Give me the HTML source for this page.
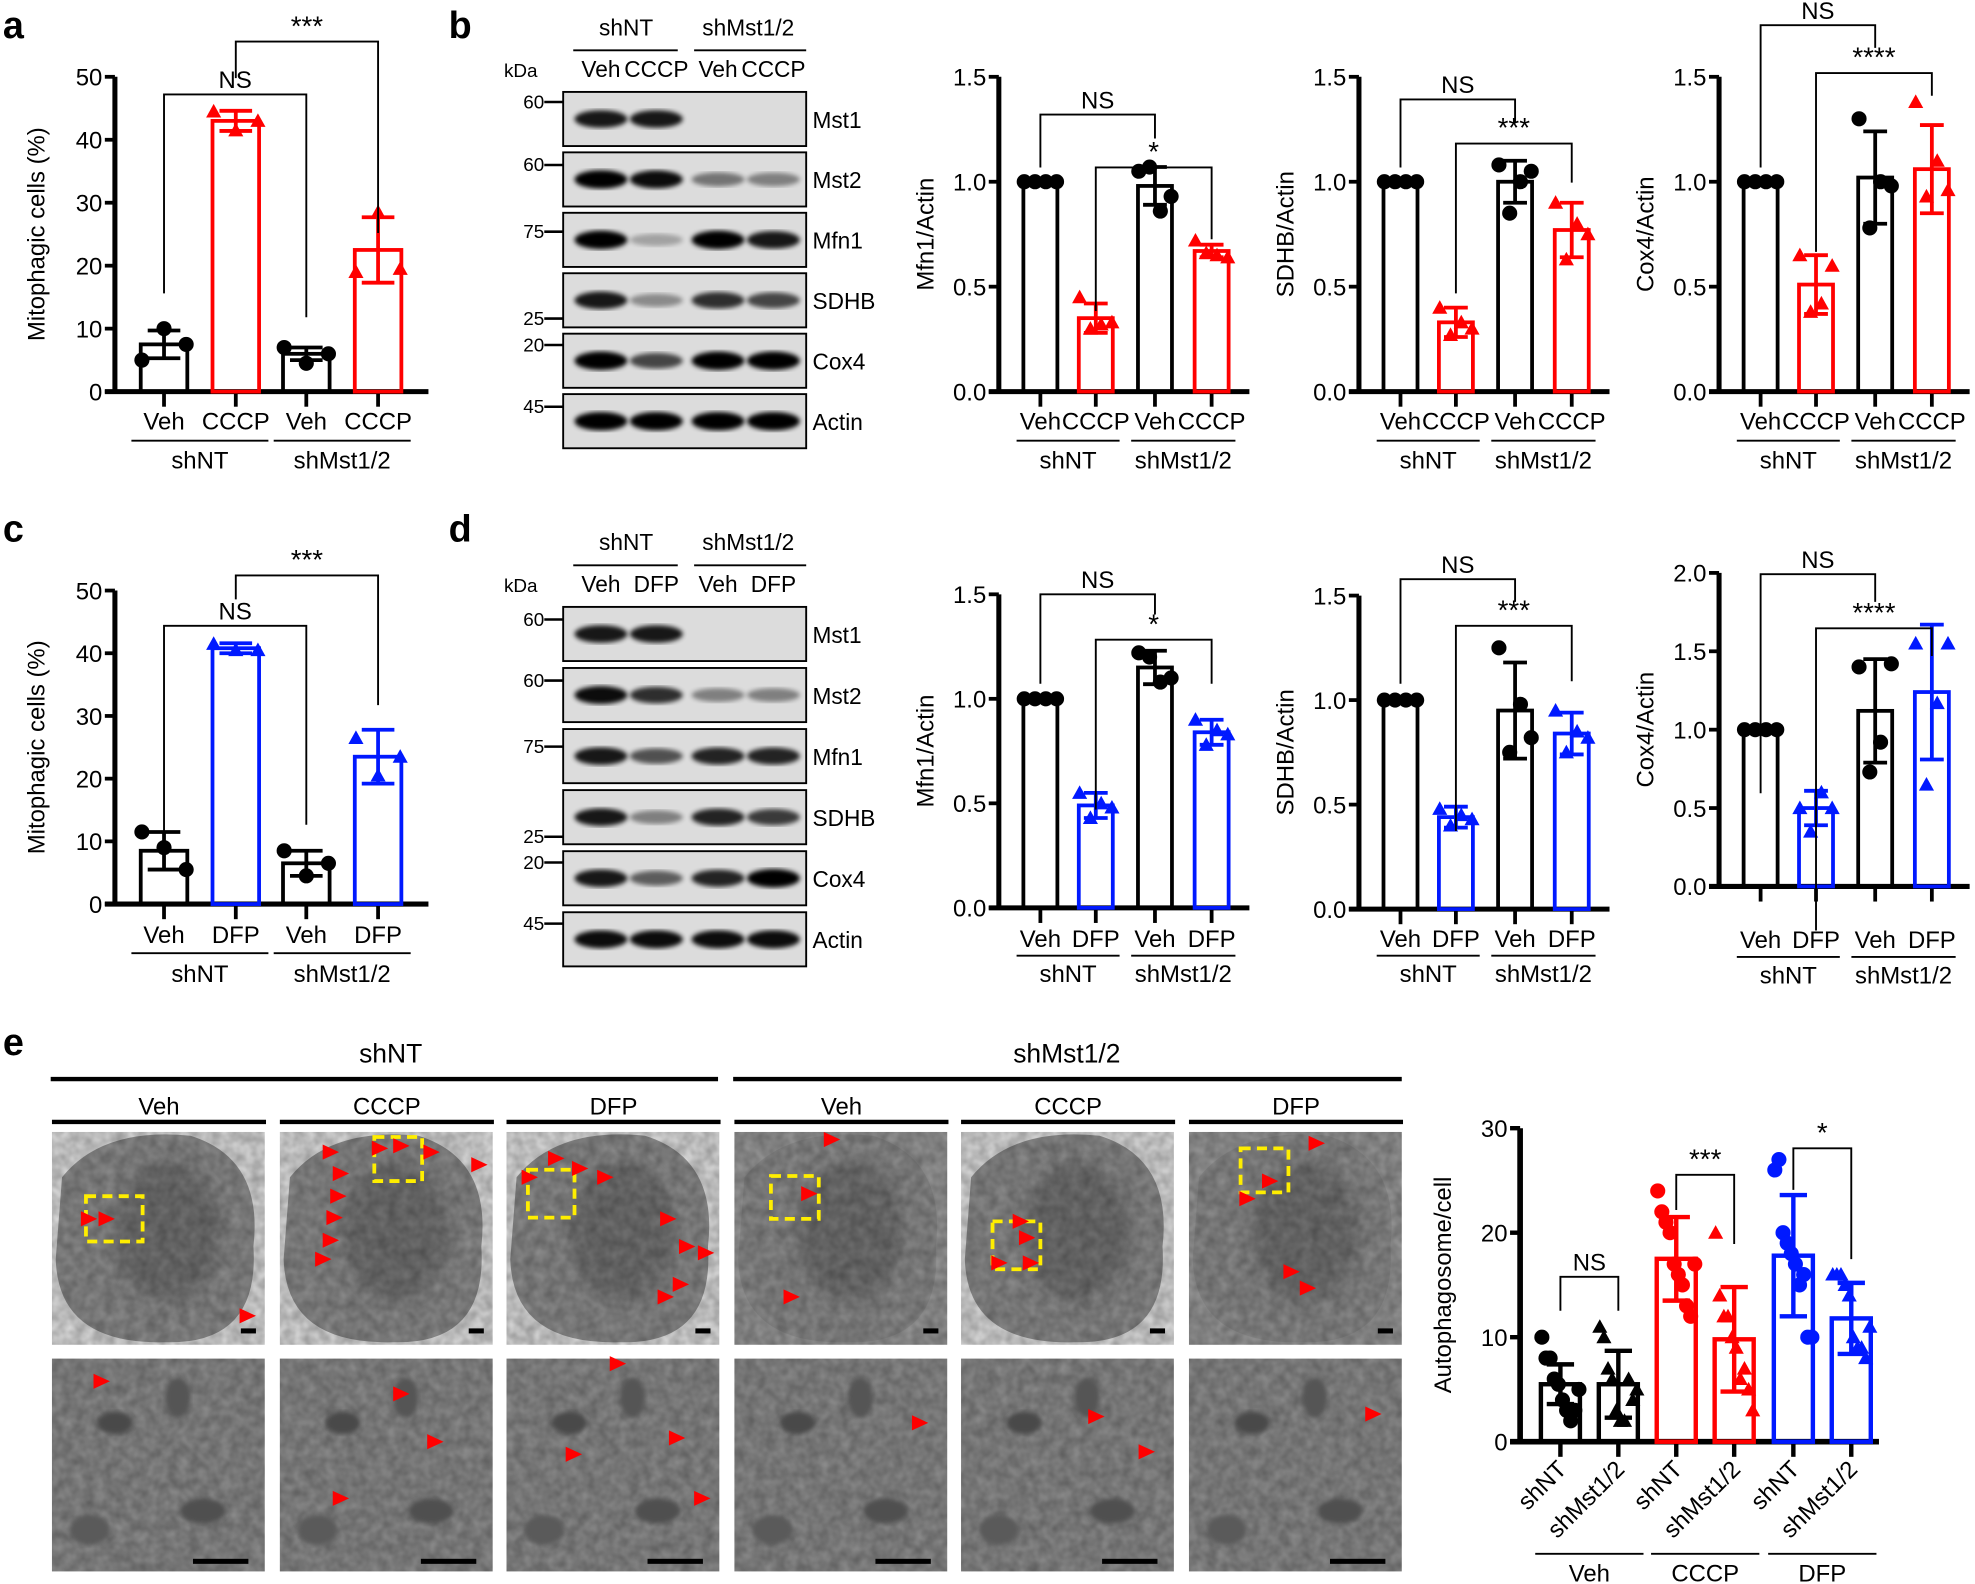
<!DOCTYPE html>
<html><head><meta charset="utf-8">
<style>
html,body{margin:0;padding:0;background:#fff;}
svg{display:block;font-family:"Liberation Sans",Arial,sans-serif;}
</style></head>
<body>
<svg id="fig" width="1975" height="1584" viewBox="0 0 1568 1258" xmlns="http://www.w3.org/2000/svg">
<defs>
<filter id="blur2"><feGaussianBlur stdDeviation="2"/></filter>
<filter id="blur4"><feGaussianBlur stdDeviation="5"/></filter>
<filter id="noise" x="0" y="0" width="100%" height="100%">
<feTurbulence type="fractalNoise" baseFrequency="0.12" numOctaves="2" seed="3"/>
<feColorMatrix type="matrix" values="0 0 0 0 0  0 0 0 0 0  0 0 0 0 0  0 0 0 0.35 0"/>
<feComposite in2="SourceGraphic" operator="in"/>
</filter>
</defs>
<g id="root"></g>
</svg>
<script>
// ===== DATA =====
const groupsAB = ["Veh","CCCP","Veh","CCCP"];
const groupsCD = ["Veh","DFP","Veh","DFP"];
const hairpins = ["shNT","shMst1/2"];
const aMeans = [7.5, 43, 6, 22.5];
const aErr = [2.2, 1.6, 1.0, 5.2];
const aPts = [[5,10,7.5],[44.5,41.5,43],[7,4.5,6],[19,28.5,19.5]];
const cMeans = [8.5, 40.8, 6.5, 23.5];
const cErr = [3, 0.8, 2, 4.3];
const cPts = [[11.5,9,5.5],[41.5,40.5,40.5],[8.5,4.5,6.5],[26.5,20.5,23.5]];
const bMfnMeans = [1.0, 0.35, 0.98, 0.67];
const bMfnErr = [0, 0.07, 0.09, 0.03];
const bMfnPts = [[1,1,1,1],[0.45,0.3,0.32,0.33],[1.05,1.07,0.86,0.93],[0.72,0.66,0.65,0.64]];
const bSdhMeans = [1.0, 0.33, 1.0, 0.77];
const bSdhErr = [0, 0.07, 0.1, 0.13];
const bSdhPts = [[1,1,1,1],[0.4,0.27,0.33,0.3],[1.08,0.85,1,1.05],[0.9,0.63,0.8,0.75]];
const bCoxMeans = [1.0, 0.51, 1.02, 1.06];
const bCoxErr = [0, 0.14, 0.22, 0.21];
const bCoxPts = [[1,1,1,1],[0.65,0.38,0.42,0.6],[1.3,0.78,1.0,0.98],[1.38,0.93,1.1,0.96]];
const dMfnMeans = [1.0, 0.49, 1.15, 0.84];
const dMfnErr = [0, 0.06, 0.08, 0.06];
const dMfnPts = [[1,1,1,1],[0.55,0.43,0.5,0.48],[1.22,1.2,1.08,1.1],[0.9,0.78,0.85,0.83]];
const dSdhMeans = [1.0, 0.44, 0.95, 0.84];
const dSdhErr = [0, 0.05, 0.23, 0.1];
const dSdhPts = [[1,1,1,1],[0.48,0.4,0.45,0.43],[1.25,0.75,0.98,0.82],[0.95,0.75,0.85,0.82]];
const dCoxMeans = [1.0, 0.5, 1.12, 1.24];
const dCoxErr = [0, 0.11, 0.33, 0.43];
const dCoxPts = [[1,1,1,1],[0.5,0.35,0.6,0.5],[1.4,0.73,0.92,1.42],[1.55,0.65,1.17,1.55]];
const eCats = ["shNT","shMst1/2","shNT","shMst1/2","shNT","shMst1/2"];
const eTreat = ["Veh","CCCP","DFP"];
const eMeans = [5.5, 5.5, 17.5, 9.8, 17.8, 11.8];
const eErr = [1.9, 3.2, 4, 5, 5.8, 3.4];
const ePts = [[10,8,8,6,5.5,4,3,2,3,5],[11,10,7,6,3,2,2,6,4,5],[24,22,21,20,17,16,15,13,12,17],[20,14,12,12,10,9,6,7,5,3],[26,27,20,19,18,17,15,16,10,10],[16,16,16,15,14,10,9,9,8,11]];
const blotRows = ["Mst1","Mst2","Mfn1","SDHB","Cox4","Actin"];
const blotBIntensity = [[0.85,0.85,0,0],[0.95,0.9,0.45,0.4],[0.95,0.25,0.95,0.85],[0.85,0.35,0.75,0.65],[0.95,0.65,0.95,0.95],[0.95,0.95,0.95,0.95]];
const blotDIntensity = [[0.85,0.85,0,0],[0.9,0.75,0.4,0.4],[0.85,0.6,0.8,0.8],[0.85,0.4,0.8,0.7],[0.85,0.55,0.8,0.95],[0.9,0.9,0.9,0.9]];
const markersB = ["60","60","75","25","20","45"];
const markersD = ["60","60","75","25","20","45"];

// ===== HELPERS =====
const NS="http://www.w3.org/2000/svg";
const root=document.getElementById('root');
function mk(tag, attrs, parent, text){
  const e=document.createElementNS(NS,tag);
  for(const k in attrs) e.setAttribute(k, attrs[k]);
  if(text!==undefined) e.textContent=text;
  (parent||root).appendChild(e);
  return e;
}
function txt(x,y,s,size,parent,anchor,weight,rot){
  const a={x:x,y:y,'font-size':size,'text-anchor':anchor||'middle',fill:'#000'};
  if(weight) a['font-weight']=weight;
  if(rot!==undefined) a.transform='rotate('+rot+' '+x+' '+y+')';
  return mk('text',a,parent,s);
}
function tri(g,x,y,r,col){
  mk('polygon',{points:(x)+','+(y-r)+' '+(x-r)+','+(y+r*0.8)+' '+(x+r)+','+(y+r*0.8),fill:col},g);
}

// ===== BAR CHART =====
function barChart(o){
  const g=mk('g',{});
  
  
  const ys=v=>o.y0-(v/o.max)*(o.y0-o.ytop);
  const xs=i=>o.ax+o.offs[i];
  const ax=mk('line',{x1:o.ax,y1:o.ytop,x2:o.ax,y2:o.y0,stroke:'#000','stroke-width':o.lw+1},g);
  
  
  const xa=mk('line',{x1:o.ax-8,y1:o.y0,x2:o.xend,y2:o.y0,stroke:'#000','stroke-width':o.lw+1},g);
  
  
  o.ticks.forEach((t,ti)=>{
    mk('line',{x1:o.ax-8,y1:ys(t),x2:o.ax,y2:ys(t),stroke:'#000','stroke-width':o.lw},g);
    const tl=txt(o.ax-10,ys(t)+7,o.tickLabels?o.tickLabels[ti]:String(t),o.fs,g,'end');
    
    
  });
  const yt=txt(o.ax-o.titleOff,(o.ytop+o.y0)/2,o.ytitle,o.fs,g,'middle',null,-90);
  
  
  o.means.forEach((m,i)=>{
    const col=o.colors[i];
    const x=xs(i);
    mk('line',{x1:x,y1:o.y0,x2:x,y2:o.y0+12,stroke:'#000','stroke-width':o.lw},g);
    const b=mk('rect',{x:x-o.bw/2,y:ys(m),width:o.bw,height:o.y0-ys(m),fill:'none',stroke:col,'stroke-width':o.lw},g);
    
    
    const e=o.err[i];
    if(e>0){
      mk('line',{x1:x,y1:ys(m+e),x2:x,y2:ys(m-e),stroke:col,'stroke-width':o.lw},g);
      mk('line',{x1:x-o.bw*0.35,y1:ys(m+e),x2:x+o.bw*0.35,y2:ys(m+e),stroke:col,'stroke-width':o.lw},g);
      mk('line',{x1:x-o.bw*0.35,y1:ys(m-e),x2:x+o.bw*0.35,y2:ys(m-e),stroke:col,'stroke-width':o.lw},g);
    }
    const pts=o.pts[i]; const n=pts.length;
    pts.forEach((p,k)=>{
      const dx=n>1?(k/(n-1)-0.5)*o.bw*0.95:0;
      if(o.shapes[i]==='c') mk('circle',{cx:x+dx,cy:ys(p),r:o.pr,fill:col},g);
      else tri(g,x+dx,ys(p),o.pr,col);
    });
    if(o.cats){
      const cl=txt(x,o.labY,o.cats[i],o.fs,g,'middle');
      
      
    }
  });
  if(o.groups){
    o.groups.forEach((gl,j)=>{
      const x1=xs(j*2)-o.bw*0.7, x2=xs(j*2+1)+o.bw*0.7;
      mk('line',{x1:x1,y1:o.gLineY,x2:x2,y2:o.gLineY,stroke:'#000','stroke-width':1.5},g);
      const t=txt((x1+x2)/2,o.gLabY,gl,o.fs,g,'middle');
      
      
    });
  }
  (o.brackets||[]).forEach(br=>{
    const x1=xs(br[0]),x2=xs(br[1]),top=br[2];
    mk('polyline',{points:x1+','+br[3]+' '+x1+','+top+' '+x2+','+top+' '+x2+','+br[4],fill:'none',stroke:'#000','stroke-width':1.5},g);
    txt((x1+x2)/2,top-5,br[5],br[5]==='NS'?o.fs:o.fs+3,g,'middle');
  });
  return {g,ys,xs};
}

const K='#000', R='#ff0000', B='#0019ff';
const FS=19;
barChart({name:'chart-a',ax:91,y0:311,ytop:61,max:50,ticks:[0,10,20,30,40,50],fs:FS,ytitle:'Mitophagic cells (%)',titleOff:56,
 offs:[39,96,152,209],bw:37,lw:3,xend:340,means:aMeans,err:aErr,pts:aPts,colors:[K,R,K,R],shapes:['c','t','c','t'],pr:6,
 cats:groupsAB,labY:341,groups:hairpins,gLineY:350,gLabY:372,
 brackets:[[0,2,75,233,252,'NS'],[1,3,33,62,185,'***']]});
barChart({name:'chart-c',ax:91,y0:718,ytop:469,max:50,ticks:[0,10,20,30,40,50],fs:FS,ytitle:'Mitophagic cells (%)',titleOff:56,
 offs:[39,96,152,209],bw:37,lw:3,xend:340,means:cMeans,err:cErr,pts:cPts,colors:[K,B,K,B],shapes:['c','t','c','t'],pr:6,
 cats:groupsCD,labY:749,groups:hairpins,gLineY:757,gLabY:780,
 brackets:[[0,2,497,678,655,'NS'],[1,3,457,476,560,'***']]});
const bOffs=[33,77,124,169];
barChart({name:'chart-b-mfn1',ax:793,y0:311,ytop:61,max:1.5,ticks:[0,0.5,1,1.5],tickLabels:['0.0','0.5','1.0','1.5'],fs:FS,ytitle:'Mfn1/Actin',titleOff:52,
 offs:bOffs,bw:27,lw:3,xend:992,means:bMfnMeans,err:bMfnErr,pts:bMfnPts,colors:[K,R,K,R],shapes:['c','t','c','t'],pr:6,
 cats:groupsAB,labY:341,groups:hairpins,gLineY:350,gLabY:372,
 brackets:[[0,2,91,133,110,'NS'],[1,3,133,247,190,'*']]});
barChart({name:'chart-b-sdhb',ax:1079,y0:311,ytop:61,max:1.5,ticks:[0,0.5,1,1.5],tickLabels:['0.0','0.5','1.0','1.5'],fs:FS,ytitle:'SDHB/Actin',titleOff:52,
 offs:bOffs,bw:27,lw:3,xend:1278,means:bSdhMeans,err:bSdhErr,pts:bSdhPts,colors:[K,R,K,R],shapes:['c','t','c','t'],pr:6,
 cats:groupsAB,labY:341,groups:hairpins,gLineY:350,gLabY:372,
 brackets:[[0,2,79,133,98,'NS'],[1,3,114,233,145,'***']]});
barChart({name:'chart-b-cox4',ax:1365,y0:311,ytop:61,max:1.5,ticks:[0,0.5,1,1.5],tickLabels:['0.0','0.5','1.0','1.5'],fs:FS,ytitle:'Cox4/Actin',titleOff:52,
 offs:bOffs,bw:27,lw:3,xend:1564,means:bCoxMeans,err:bCoxErr,pts:bCoxPts,colors:[K,R,K,R],shapes:['c','t','c','t'],pr:6,
 cats:groupsAB,labY:341,groups:hairpins,gLineY:350,gLabY:372,
 brackets:[[0,2,20,133,38,'NS'],[1,3,58,200,76,'****']]});
barChart({name:'chart-d-mfn1',ax:793,y0:721,ytop:472,max:1.5,ticks:[0,0.5,1,1.5],tickLabels:['0.0','0.5','1.0','1.5'],fs:FS,ytitle:'Mfn1/Actin',titleOff:52,
 offs:bOffs,bw:27,lw:3,xend:992,means:dMfnMeans,err:dMfnErr,pts:dMfnPts,colors:[K,B,K,B],shapes:['c','t','c','t'],pr:6,
 cats:groupsCD,labY:752,groups:hairpins,gLineY:759,gLabY:780,
 brackets:[[0,2,472,543,488,'NS'],[1,3,508,643,543,'*']]});
barChart({name:'chart-d-sdhb',ax:1079,y0:722,ytop:473,max:1.5,ticks:[0,0.5,1,1.5],tickLabels:['0.0','0.5','1.0','1.5'],fs:FS,ytitle:'SDHB/Actin',titleOff:52,
 offs:bOffs,bw:27,lw:3,xend:1278,means:dSdhMeans,err:dSdhErr,pts:dSdhPts,colors:[K,B,K,B],shapes:['c','t','c','t'],pr:6,
 cats:groupsCD,labY:752,groups:hairpins,gLineY:759,gLabY:780,
 brackets:[[0,2,460,543,478,'NS'],[1,3,497,660,541,'***']]});
barChart({name:'chart-d-cox4',ax:1365,y0:704,ytop:455,max:2,ticks:[0,0.5,1,1.5,2],tickLabels:['0.0','0.5','1.0','1.5','2.0'],fs:FS,ytitle:'Cox4/Actin',titleOff:52,
 offs:bOffs,bw:27,lw:3,xend:1564,means:dCoxMeans,err:dCoxErr,pts:dCoxPts,colors:[K,B,K,B],shapes:['c','t','c','t'],pr:6,
 cats:groupsCD,labY:753,groups:hairpins,gLineY:760,gLabY:781,
 brackets:[[0,2,456,630,478,'NS'],[1,3,499,739,521,'****']]});
(function(){
  const c=barChart({name:'chart-e',ax:1207,y0:1145,ytop:896,max:30,ticks:[0,10,20,30],fs:FS,ytitle:'Autophagosome/cell',titleOff:55,
   offs:[32,78,124,170,217,263],bw:31,lw:3.5,xend:1492,means:eMeans,err:eErr,pts:ePts,colors:[K,K,R,R,B,B],shapes:['c','t','c','t','c','t'],pr:6,
   brackets:[[0,1,1014,1041,1041,'NS'],[2,3,933,961,988,'***'],[4,5,912,945,1000,'*']]});
  eCats.forEach((s,i)=>{
    const x=c.xs(i)+6, y=1168;
    const t=txt(x,y,s,FS,c.g,'end',null,-45);
    
    
  });
  eTreat.forEach((s,j)=>{
    const x1=c.xs(j*2)-20,x2=c.xs(j*2+1)+20;
    mk('line',{x1:x1,y1:1234,x2:x2,y2:1234,stroke:'#000','stroke-width':1.5},c.g);
    const t=txt((x1+x2)/2,1256,s,FS,c.g,'middle');
    
    
  });
})();

// ===== BLOTS =====
function blot(name,top,gap,inten,markers,markerY,lanes,hdrY){
  const g=mk('g',{});
  
  
  const x0=447,w=193,h=43;
  const laneX=[477,521,570,614];
  txt(497,hdrY,'shNT',18,g);
  txt(594,hdrY,'shMst1/2',18,g);
  mk('line',{x1:455,y1:hdrY+12,x2:538,y2:hdrY+12,stroke:'#000','stroke-width':1.5},g);
  mk('line',{x1:551,y1:hdrY+12,x2:640,y2:hdrY+12,stroke:'#000','stroke-width':1.5},g);
  txt(400,hdrY+33,'kDa',15,g,'start');
  lanes.forEach((l,i)=>txt(laneX[i],hdrY+33,l,18,g));
  blotRows.forEach((r,i)=>{
    const y=top+i*gap;
    mk('rect',{x:x0,y:y,width:w,height:h,fill:'#dcdcdc',stroke:'#000','stroke-width':1.5},g);
    inten[i].forEach((v,j)=>{
      if(v>0) mk('ellipse',{cx:laneX[j],cy:y+h*0.5,rx:21,ry:4+v*3.5,fill:'#000',opacity:Math.min(1,v*1.05),filter:'url(#blur2)'},g);
    });
    const lab=txt(645,y+h/2+7,r,18,g,'start');
    
    
    const my=y+markerY[i];
    mk('line',{x1:432,y1:my,x2:447,y2:my,stroke:'#000','stroke-width':2},g);
    txt(432,my+5,markers[i],15,g,'end');
  });
}
blot('western-blot-b',73,48,blotBIntensity,markersB,[8,10,15,36,9,10],groupsAB,28);
blot('western-blot-d',482,48.5,blotDIntensity,markersD,[10,10,14,37,9,9],groupsCD,437);

// ===== PANEL LETTERS =====
[['a',2,30],['b',356,30],['c',2,430],['d',356,430],['e',2,838]].forEach(p=>{
  const t=txt(p[1],p[2],p[0],30,root,'start','bold');
  
  
});

// ===== EM IMAGES =====
(function(){
  const g=mk('g',{});
  
  
  txt(310,844,'shNT',21,g);
  txt(847,844,'shMst1/2',21,g);
  mk('line',{x1:40,y1:857,x2:570,y2:857,stroke:'#000','stroke-width':3.5},g);
  mk('line',{x1:582,y1:857,x2:1113,y2:857,stroke:'#000','stroke-width':3.5},g);
  const cols=[41,222,402,583,763,944];
  const lbl=['Veh','CCCP','DFP','Veh','CCCP','DFP'];
  cols.forEach((x,i)=>{
    txt(x+85,885,lbl[i],19,g);
    mk('line',{x1:x,y1:891,x2:x+170,y2:891,stroke:'#000','stroke-width':3.5},g);
    const bgTop = (i===3||i===5)?'#9a9a9a':'#e0e0e0';
    mk('rect',{x:x,y:899,width:169,height:169,fill:bgTop},g);
    mk('path',{d:'M'+(x+8)+' 935 Q'+(x+40)+' 895 '+(x+110)+' 902 Q'+(x+168)+' 920 '+(x+160)+' 990 Q'+(x+165)+' 1068 '+(x+90)+' 1066 Q'+(x+5)+' 1068 '+(x+3)+' 1000 Z',fill:'#8e8e8e'},g);
    mk('ellipse',{cx:x+92,cy:978,rx:42,ry:55,fill:'#747474',filter:'url(#blur4)'},g);
    mk('rect',{x:x,y:899,width:169,height:169,fill:'#888',filter:'url(#noise)'},g);
    mk('rect',{x:x+150,y:1055,width:12,height:4,fill:'#000'},g);
    mk('rect',{x:x,y:1079,width:169,height:169,fill:'#8e8e8e'},g);
    mk('rect',{x:x,y:1079,width:169,height:169,fill:'#888',filter:'url(#noise)'},g);
    mk('ellipse',{cx:x+50,cy:1130,rx:14,ry:9,fill:'#4a4a4a',filter:'url(#blur2)'},g);
    mk('ellipse',{cx:x+120,cy:1200,rx:18,ry:10,fill:'#505050',filter:'url(#blur2)'},g);
    mk('ellipse',{cx:x+100,cy:1110,rx:10,ry:16,fill:'#555',filter:'url(#blur2)'},g);
    mk('ellipse',{cx:x+30,cy:1215,rx:16,ry:12,fill:'#5a5a5a',filter:'url(#blur2)'},g);
    mk('rect',{x:x+112,y:1238,width:44,height:4,fill:'#000'},g);
  });
  const yb=[[68,950,45,36],[297,903,38,35],[419,929,37,38],[612,934,38,34],[788,970,38,38],[985,912,38,35]];
  yb.forEach(b=>mk('rect',{x:b[0],y:b[1],width:b[2],height:b[3],fill:'none',stroke:'#ffee00','stroke-width':3,'stroke-dasharray':'8 5'},g));
  const arr=[[70,968],[84,968],[196,1045],[262,915],[270,932],[301,912],[318,910],[342,915],[380,925],[268,950],[265,967],[262,985],[256,1000],
   [420,935],[441,920],[460,928],[480,935],[530,968],[545,990],[528,1030],[540,1020],[560,995],[660,905],[642,948],[628,1030],
   [810,970],[815,983],[793,1003],[818,1003],[1008,938],[1045,908],[1025,1010],[1038,1023],[990,952],
   [80,1097],[318,1107],[345,1145],[270,1190],[490,1083],[537,1142],[455,1155],[557,1190],[730,1130],[870,1125],[910,1153],[1090,1123]];
  arr.forEach(a=>mk('polygon',{points:(a[0]-6)+','+(a[1]-6)+' '+(a[0]+7)+','+a[1]+' '+(a[0]-6)+','+(a[1]+6),fill:'#ff0000'},g));
})();
</script>
</body></html>
